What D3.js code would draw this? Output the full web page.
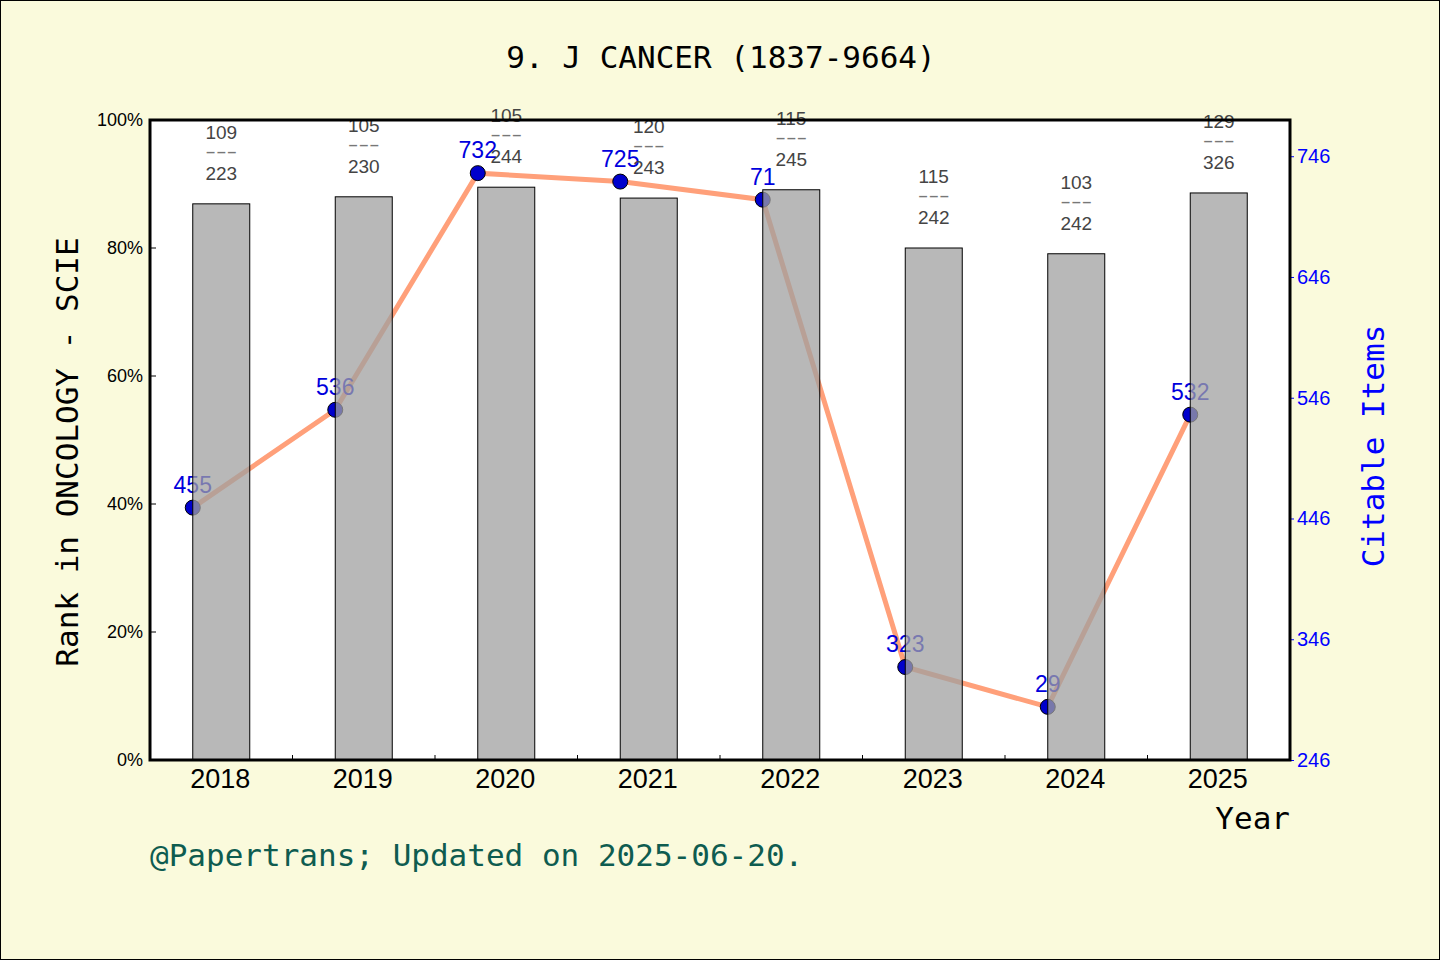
<!DOCTYPE html>
<html>
<head>
<meta charset="utf-8">
<script src="https://cdn.jsdelivr.net/npm/d3@7"></script>
<style>
  body { margin: 0; background: #fafadc; }
  svg { display: block; }
</style>
</head>
<body>
<div id="chart"></div>
<script>
var years = ["2018", "2019", "2020", "2021", "2022", "2023", "2024", "2025"];
var rankPct = [86.9, 88.0, 89.5, 87.8, 89.1, 80.0, 79.1, 88.6];
var rankNum = ["109", "105", "105", "120", "115", "115", "103", "129"];
var rankTotal = ["223", "230", "244", "243", "245", "242", "242", "326"];
var citable = [455, 536, 732, 725, 710, 323, 290, 532];
var citableLabels = ["455", "536", "732", "725", "71", "323", "29", "532"];
var leftTicks = [0, 20, 40, 60, 80, 100];
var rightTicks = [246, 346, 446, 546, 646, 746];

var W = 1440, H = 960;
var margin = { top: 120, right: 150, bottom: 200, left: 150 },
  width = W - margin.left - margin.right,
  height = H - margin.top - margin.bottom;

var svgRoot = d3.select("#chart")
  .append("svg")
  .attr("width", W)
  .attr("height", H);

svgRoot.append("rect")
  .attr("x", 0.5).attr("y", 0.5)
  .attr("width", W - 1).attr("height", H - 1)
  .attr("fill", "#fafadc")
  .attr("stroke", "#000");

var svg = svgRoot.append("g")
  .attr("transform", "translate(" + margin.left + "," + margin.top + ")");

svg.append("rect")
  .attr("width", width).attr("height", height)
  .attr("fill", "#fff");

var x = d3.scaleBand().domain(years).range([0, width]).padding(0);
var barW = x.bandwidth() * 0.4;
var y = d3.scaleLinear().domain([0, 100]).range([height, 0]);
var y2 = d3.scaleLinear().domain([246, 776]).range([height, 0]);

// line + markers (drawn under the bars)
var px = function (i) { return x(years[i]) + x.bandwidth() / 2 - barW / 2; };

svg.append("path")
  .datum(citable)
  .attr("fill", "none")
  .attr("stroke", "#ffa07a")
  .attr("stroke-width", 5)
  .attr("d", d3.line()
    .x(function (d, i) { return px(i); })
    .y(function (d) { return y2(d); }));

svg.selectAll(".dot")
  .data(citable)
  .enter()
  .append("circle")
  .attr("cx", function (d, i) { return px(i); })
  .attr("cy", function (d) { return y2(d); })
  .attr("r", 7.5)
  .attr("fill", "#0000cc")
  .attr("stroke", "#000")
  .attr("stroke-width", 1);

svg.selectAll(".vlab")
  .data(citable)
  .enter()
  .append("text")
  .attr("x", function (d, i) { return px(i); })
  .attr("y", function (d) { return y2(d) - 15; })
  .attr("text-anchor", "middle")
  .attr("font-family", "Liberation Sans, Arial, sans-serif")
  .attr("font-size", 23)
  .attr("fill", "#0000dd")
  .text(function (d, i) { return citableLabels[i]; });

// bars on top, semi transparent
svg.selectAll(".bar")
  .data(rankPct)
  .enter()
  .append("rect")
  .attr("x", function (d, i) { return x(years[i]) + x.bandwidth() / 2 - barW / 2; })
  .attr("y", function (d) { return y(d); })
  .attr("width", barW)
  .attr("height", function (d) { return height - y(d); })
  .attr("fill", "#a0a0a0")
  .attr("fill-opacity", 0.75)
  .attr("stroke", "#000")
  .attr("stroke-width", 1);

// rank fractions above bars
var rl = svg.selectAll(".rlab")
  .data(rankPct)
  .enter()
  .append("g")
  .attr("transform", function (d, i) {
    return "translate(" + (x(years[i]) + x.bandwidth() / 2) + "," + y(d) + ")";
  })
  .attr("font-family", "Liberation Sans, Arial, sans-serif")
  .attr("font-size", 19)
  .attr("fill", "#444")
  .attr("text-anchor", "middle");
rl.append("text").attr("y", -65).text(function (d, i) { return rankNum[i]; });
rl.append("text").attr("y", -46).attr("fill", "#777")
  .attr("textLength", 32).attr("lengthAdjust", "spacingAndGlyphs")
  .text("---");
rl.append("text").attr("y", -24).text(function (d, i) { return rankTotal[i]; });

// left axis ticks (inward)
svg.selectAll(".lt")
  .data(leftTicks)
  .enter()
  .append("line")
  .attr("x1", 0).attr("x2", 6)
  .attr("y1", function (d) { return y(d); })
  .attr("y2", function (d) { return y(d); })
  .attr("stroke", "#000");
svg.selectAll(".ltl")
  .data(leftTicks)
  .enter()
  .append("text")
  .attr("x", -7)
  .attr("y", function (d) { return y(d) + 6; })
  .attr("text-anchor", "end")
  .attr("font-family", "Liberation Sans, Arial, sans-serif")
  .attr("font-size", 18)
  .text(function (d) { return d + "%"; });

// bottom axis: minor ticks at category boundaries
svg.selectAll(".bt")
  .data(years.slice(1))
  .enter()
  .append("line")
  .attr("x1", function (d) { return x(d); })
  .attr("x2", function (d) { return x(d); })
  .attr("y1", height).attr("y2", height - 5)
  .attr("stroke", "#000");
svg.selectAll(".btl")
  .data(years)
  .enter()
  .append("text")
  .attr("x", function (d) { return x(d) + x.bandwidth() / 2 - 1; })
  .attr("y", height + 28)
  .attr("text-anchor", "middle")
  .attr("font-family", "Liberation Sans Narrow, Liberation Sans, Arial, sans-serif")
  .attr("font-size", 27)
  .text(function (d) { return d; });

// right axis
var rAxis = svg.append("g")
  .attr("transform", "translate(" + width + ",0)")
  .call(d3.axisRight(y2).tickValues(rightTicks).tickSize(4).tickPadding(3));
rAxis.select(".domain").remove();
rAxis.selectAll("line").attr("stroke", "#0000ff");
rAxis.selectAll("text")
  .attr("fill", "#0000ff")
  .attr("font-family", "Liberation Sans, Arial, sans-serif")
  .attr("font-size", 20);

// frame
svg.append("rect")
  .attr("width", width).attr("height", height)
  .attr("fill", "none")
  .attr("stroke", "#000")
  .attr("stroke-width", 3);

// titles
svgRoot.append("text")
  .attr("x", 721).attr("y", 68)
  .attr("text-anchor", "middle")
  .attr("font-family", "DejaVu Sans Mono, monospace")
  .attr("font-size", 31)
  .text("9. J CANCER (1837-9664)");

svgRoot.append("text")
  .attr("transform", "translate(78,452) rotate(-90)")
  .attr("text-anchor", "middle")
  .attr("font-family", "DejaVu Sans Mono, monospace")
  .attr("font-size", 31)
  .text("Rank in ONCOLOGY - SCIE");

svgRoot.append("text")
  .attr("transform", "translate(1384,446) rotate(-90)")
  .attr("text-anchor", "middle")
  .attr("font-family", "DejaVu Sans Mono, monospace")
  .attr("font-size", 31)
  .attr("fill", "#0000ff")
  .text("Citable Items");

svgRoot.append("text")
  .attr("x", 1290).attr("y", 829)
  .attr("text-anchor", "end")
  .attr("font-family", "DejaVu Sans Mono, monospace")
  .attr("font-size", 31)
  .text("Year");

svgRoot.append("text")
  .attr("x", 150).attr("y", 866)
  .attr("font-family", "DejaVu Sans Mono, monospace")
  .attr("font-size", 31)
  .attr("fill", "#0e5c50")
  .text("@Papertrans; Updated on 2025-06-20.");
</script>
</body>
</html>
